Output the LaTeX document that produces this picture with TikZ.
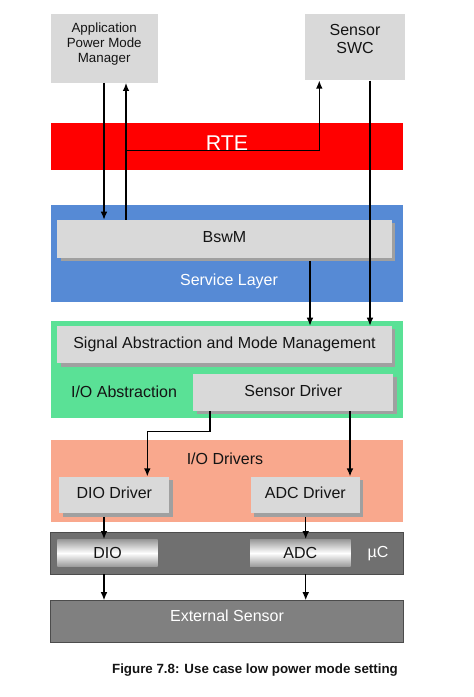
\documentclass[tikz,border=0pt]{standalone}
\usepackage{fontspec}
\setmainfont{Liberation Sans}
\usetikzlibrary{arrows.meta,shadows}
\definecolor{rtered}{RGB}{255,0,0}
\definecolor{svcblue}{RGB}{86,138,213}
\definecolor{iogreen}{RGB}{90,225,150}
\definecolor{drvsalmon}{RGB}{249,168,141}
\definecolor{boxgray}{RGB}{217,217,217}
\definecolor{shadowgray}{RGB}{160,160,160}
\definecolor{ucgray}{RGB}{112,112,112}
\definecolor{extgray}{RGB}{128,128,128}
\definecolor{txt}{RGB}{20,20,20}
\begin{document}
\begin{tikzpicture}[x=0.75pt,y=-0.75pt,
  every node/.style={text=txt},
  mainfont/.style={font=\fontsize{12}{14}\selectfont},
  layer/.style={rectangle, inner sep=0pt, minimum width=264.45pt, anchor=center},
  topbox/.style={rectangle, fill=boxgray, inner sep=0pt, align=center},
  modbox/.style={rectangle, fill=boxgray, inner sep=0pt, mainfont,
    general shadow={fill=shadowgray, shadow xshift=2.4pt, shadow yshift=-2.4pt}},
  hwbox/.style={rectangle, inner sep=0pt, top color=gray!80, bottom color=gray!80,
    middle color=white, mainfont, minimum height=20.5pt},
  conn/.style={-{Latex[length=6pt,width=5pt]}, line width=1pt},
  wire/.style={line width=1pt}
]
\useasboundingbox (0,0) rectangle (474,697);

% top application boxes
\node[topbox, minimum width=80.25pt, minimum height=51.5pt,
  font=\fontsize{10}{11.2}\selectfont] (app) at (104.2,48.35) {};
\node[align=center, font=\fontsize{10}{11.2}\selectfont] (apptext) at (104.2,44)
  {Application\\Power Mode\\Manager};
\node[topbox, minimum width=74.5pt, minimum height=49.7pt, mainfont] (swc) at (355,47.15) {};
\node[align=center, mainfont] (swctext) at (355,39) {Sensor\\SWC};

% RTE
\node[layer, fill=rtered, minimum height=35pt] (rte) at (227,146.65) {};
\node[text=white, font=\fontsize{16}{18}\selectfont] (rtetext) at (227,143) {RTE};

% Service layer
\node[layer, fill=svcblue, minimum height=72.5pt] (svc) at (227,253.35) {};
\node[modbox, minimum width=250.8pt, minimum height=28.3pt] (bswm) at (224.5,238.85)
  {\raisebox{3pt}{BswM}};
\node[text=white, mainfont] (svctext) at (229,281) {Service Layer};

% I/O abstraction
\node[layer, fill=iogreen, minimum height=72.5pt] (ioa) at (227,369.35) {};
\node[modbox, minimum width=250.8pt, minimum height=28pt] (samm) at (224.5,344.65)
  {\raisebox{3pt}{Signal Abstraction and Mode Management}};
\node[modbox, minimum width=150pt, minimum height=27.5pt] (sd) at (293.3,392.35)
  {\raisebox{3pt}{Sensor Driver}};
\node[mainfont] (ioatext) at (124,391.7) {I/O Abstraction};

% I/O drivers
\node[layer, fill=drvsalmon, minimum height=61.3pt] (drv) at (227,480.85) {};
\node[mainfont] (drvtext) at (225,459) {I/O Drivers};
\node[modbox, minimum width=82.5pt, minimum height=27.5pt] (diodrv) at (114.3,495)
  {\raisebox{3pt}{DIO Driver}};
\node[modbox, minimum width=82pt, minimum height=27.5pt] (adcdrv) at (305.35,495)
  {\raisebox{3pt}{ADC Driver}};

% microcontroller
\node[layer, fill=ucgray, draw=black!70, line width=0.7pt, minimum height=31pt] (uc) at (227,553.35) {};
\node[hwbox, minimum width=75.3pt] (dio) at (107.5,553) {DIO};
\node[hwbox, minimum width=75.5pt] (adc) at (300.35,553) {ADC};
\node[text=white, mainfont] (uctext) at (378,554) {µC};

% external sensor
\node[layer, fill=extgray, draw=black!70, line width=0.7pt, minimum height=31.5pt] (ext) at (227,621.7) {};
\node[text=white, mainfont] (exttext) at (227,616) {External Sensor};

% caption
\node[font=\bfseries\fontsize{10}{12}\selectfont] (caption) at (255,670)
  {Figure 7.8: Use case low power mode setting};

% connector x positions
\coordinate (xa) at (104,0);
\coordinate (xb) at (126,0);
\coordinate (xc) at (319.3,0);
\coordinate (xd) at (370,0);
\coordinate (xe) at (310,0);
\coordinate (xf) at (210,0);
\coordinate (xg) at (147.3,0);
\coordinate (xh) at (350,0);
\coordinate (xi) at (305.7,0);
\coordinate (rteline) at (0,150.7);
\coordinate (jog) at (0,431.7);

\draw[conn] (app.south -| xa) -- (bswm.north -| xa);
\draw[conn] (bswm.north -| xb) -- (app.south -| xb);
\draw[conn] (rteline -| xb) -| (swc.south -| xc);
\draw[conn] (swc.south -| xd) -- (samm.north -| xd);
\draw[conn] ([yshift=-2.4pt]bswm.south -| xe) -- (samm.north -| xe);
\draw[conn] (sd.south -| xf) -- (jog -| xf) -- (jog -| xg) -- (diodrv.north -| xg);
\draw[conn] (sd.south -| xh) -- (adcdrv.north -| xh);
\draw[conn] ([yshift=-2.4pt]diodrv.south -| xa) -- (dio.north -| xa);
\draw[conn] ([yshift=-2.4pt]adcdrv.south -| xi) -- (adc.north -| xi);
\draw[conn] (uc.south -| xa) -- (ext.north -| xa);
\draw[conn] (uc.south -| xi) -- (ext.north -| xi);
\end{tikzpicture}
\end{document}
